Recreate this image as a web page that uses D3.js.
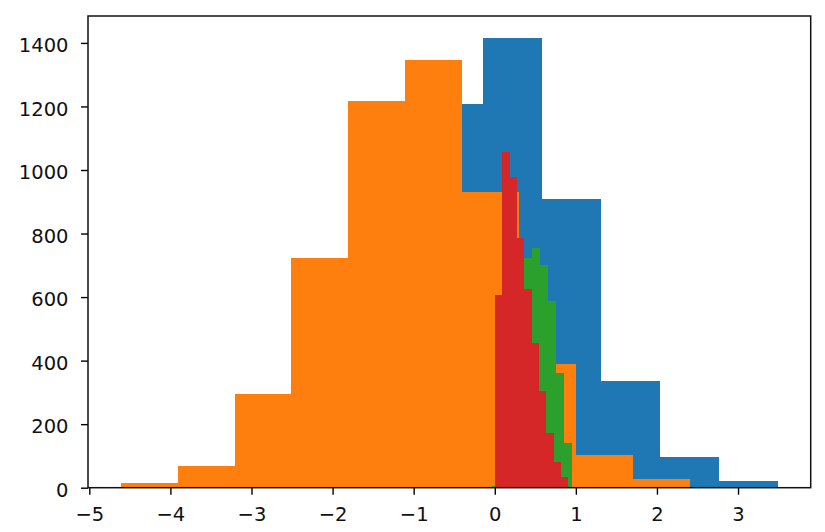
<!DOCTYPE html>
<html>
<head>
<meta charset="utf-8">
<script src="https://cdn.jsdelivr.net/npm/d3@7"></script>
<style>
  body { margin: 0; background: #fff; }
  .tick text { font-family: "DejaVu Sans", sans-serif; font-size: 19.5px; fill: #111; }
</style>
</head>
<body>
<div id="chart-root"></div>
<script>
// bin edges (x data values) and counts for each of the four hist() calls
const blueEdges = [-3.790, -3.062, -2.334, -1.605, -0.877, -0.149, 0.579, 1.307, 2.035, 2.763, 3.491]
const blueCounts = [5, 42, 215, 690, 1208, 1414, 908, 335, 96, 22]

const orangeEdges = [-4.611, -3.910, -3.209, -2.508, -1.807, -1.107, -0.406, 0.295, 0.996, 1.697, 2.398]
const orangeCounts = [16, 69, 296, 724, 1217, 1345, 930, 390, 103, 28]

const greenEdges = [-0.030, 0.068, 0.166, 0.264, 0.362, 0.460, 0.558, 0.656, 0.754, 0.852, 0.950]
const greenCounts = [4, 300, 470, 600, 724, 753, 700, 587, 361, 140]

const redEdges = [0.000, 0.0904, 0.181, 0.271, 0.362, 0.452, 0.542, 0.633, 0.723, 0.814, 0.904]
const redCounts = [608, 1058, 977, 787, 624, 456, 303, 172, 82, 35]

const xTicks = [-5, -4, -3, -2, -1, 0, 1, 2, 3]
const yTicks = [0, 200, 400, 600, 800, 1000, 1200, 1400]

const series = [
  {name: "blue", edges: blueEdges, counts: blueCounts, color: "#1f77b4"},
  {name: "orange", edges: orangeEdges, counts: orangeCounts, color: "#ff7f0e"},
  {name: "green", edges: greenEdges, counts: greenCounts, color: "#2ca02c"},
  {name: "red", edges: redEdges, counts: redCounts, color: "#d62728"},
]

const margin = {top: 16, right: 14.3, bottom: 44.3, left: 88},
  width = 825 - margin.left - margin.right,
  height = 532 - margin.top - margin.bottom

const svg = d3.select("#chart-root")
  .append("svg")
    .attr("width", 825)
    .attr("height", 532)
  .append("g")
    .attr("transform", "translate(" + margin.left + "," + margin.top + ")")

// matplotlib style 5% x-margins around the data, y from 0 with 5% headroom
const xMin = d3.min(series, s => s.edges[0])
const xMax = d3.max(series, s => s.edges[s.edges.length - 1])
const xPad = (xMax - xMin) * 0.05
const yMax = d3.max(series, s => d3.max(s.counts))

const x = d3.scaleLinear()
  .domain([xMin - xPad, xMax + xPad])
  .range([0, width])

const y = d3.scaleLinear()
  .domain([0, yMax * 1.05])
  .range([height, 0])

// Bars, one group per hist call, drawn in call order
series.forEach(s => {
  svg.append("g")
    .classed("hist-" + s.name, true)
    .selectAll("rect")
    .data(s.counts)
    .enter()
    .append("rect")
    .attr("x", (d, i) => x(s.edges[i]))
    .attr("width", (d, i) => x(s.edges[i + 1]) - x(s.edges[i]) + 0.3)
    .attr("y", d => y(d))
    .attr("height", d => height - y(d))
    .attr("fill", s.color)
    .attr("shape-rendering", "crispEdges")
})

// Axes
const xAxis = svg.append("g")
  .attr("transform", "translate(0," + height + ")")
  .call(d3.axisBottom(x).tickValues(xTicks).tickSize(7).tickPadding(12).tickFormat(d3.format("d")))

const yAxis = svg.append("g")
  .call(d3.axisLeft(y).tickValues(yTicks).tickSize(7).tickPadding(12.5).tickFormat(d3.format("d")))

yAxis.selectAll(".tick text").attr("dy", "0.44em")

xAxis.select(".domain").remove()
yAxis.select(".domain").remove()
svg.selectAll(".tick line").attr("stroke", "#000").attr("stroke-width", 1.4)

// Frame
svg.append("rect")
  .attr("x", 0)
  .attr("y", 0)
  .attr("width", width)
  .attr("height", height)
  .attr("fill", "none")
  .attr("stroke", "#111")
  .attr("stroke-width", 1.5)
</script>
</body>
</html>
